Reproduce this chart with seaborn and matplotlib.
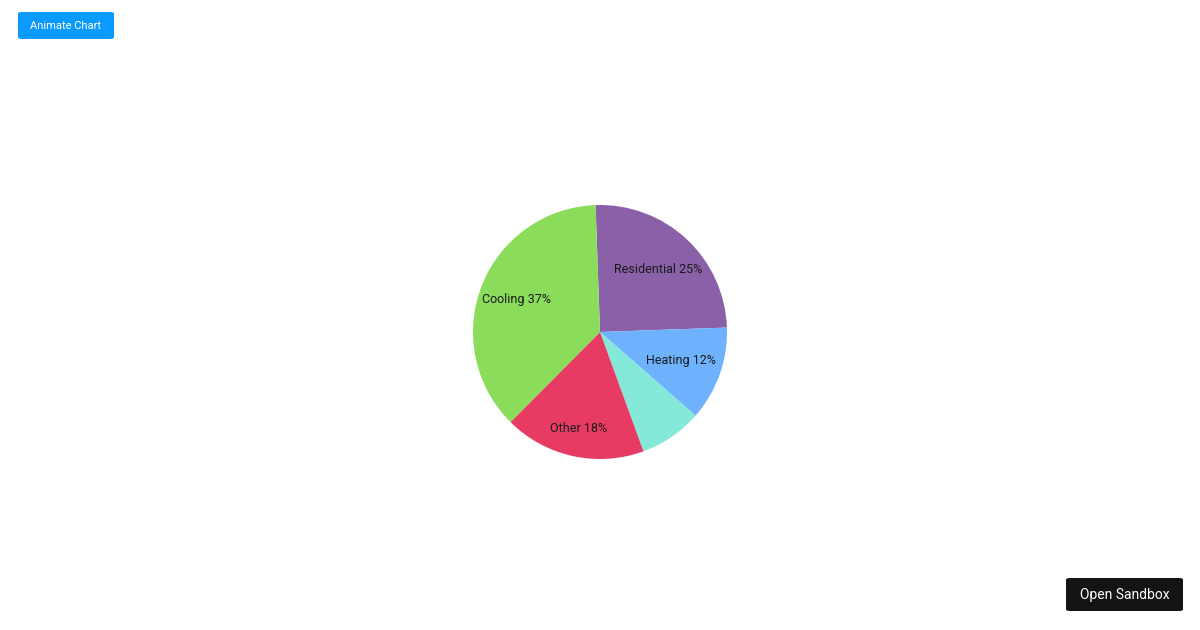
import matplotlib
matplotlib.use("Agg")
import matplotlib.pyplot as plt
from matplotlib.patches import FancyBboxPatch
import seaborn as sns

categories = ["Residential", "Heating", "Lighting", "Other", "Cooling"]
values = [25, 12, 8, 18, 37]
colors = ["#8a60a8", "#6eb2fe", "#84e9d9", "#e83b63", "#8cdc5c"]

sns.set_theme(style="white")
plt.rcParams['font.family'] = ['Roboto', 'DejaVu Sans']

fig = plt.figure(figsize=(12, 6.3), dpi=100)
fig.patch.set_facecolor("white")

ax = fig.add_axes([473 / 1200, (630 - 459) / 630, 254 / 1200, 254 / 630])
labels = [f"{c} {v}%" if v >= 10 else "" for c, v in zip(categories, values)]
wedges, texts = ax.pie(values, labels=labels, colors=colors, startangle=92,
                       counterclock=False, labeldistance=0.7, radius=1,
                       wedgeprops=dict(linewidth=0),
                       textprops=dict(fontsize=9, color="#1a1a1a", ha="center", va="center"))
label_scale = [0.67 / 0.7, 0.68 / 0.7, 1.0, 0.78 / 0.7, 0.71 / 0.7]
for t, s in zip(texts, label_scale):
    x, y = t.get_position()
    t.set_position((x * s, y * s))
    t.set_ha("center")
    t.set_va("center")
ax.set_xlim(-1, 1)
ax.set_ylim(-1, 1)
ax.set_aspect("equal")
ax.axis("off")

# Buttons
def button(x0, y0, w, h, color, text, fs):
    fx, fy = x0 / 1200, 1 - (y0 + h) / 630
    fw, fh = w / 1200, h / 630
    p = FancyBboxPatch((fx, fy), fw, fh, boxstyle="round,pad=0,rounding_size=0.003",
                       transform=fig.transFigure, facecolor=color, edgecolor="none")
    fig.add_artist(p)
    fig.text(fx + fw / 2, fy + fh / 2 - 0.001, text, color="white", fontsize=fs,
             ha="center", va="center")

button(18, 12, 96, 27, "#0b9bff", "Animate Chart", 8)
button(1066, 578, 117, 33, "#141414", "Open Sandbox", 10)

fig.savefig("out.png", dpi=100)
